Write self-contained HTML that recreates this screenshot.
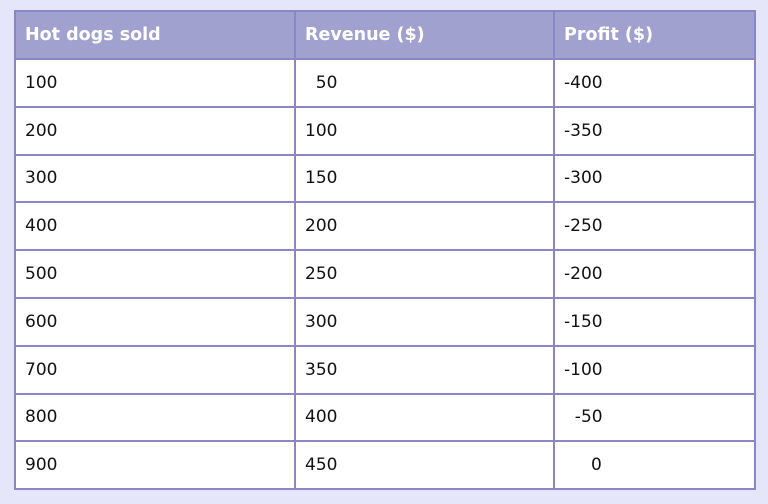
<!DOCTYPE html>
<html><head><style>
body{margin:0;width:768px;height:504px;background:#e6e6fa;font-family:"DejaVu Sans",sans-serif;overflow:hidden}
table{position:absolute;left:14px;top:10px;border-collapse:collapse;width:742px}
td,th{border:2px solid #8a88c4;height:45.8px;padding:0 0 0 9px;text-align:left;font-size:17px;color:#111;background:#fff;white-space:pre}
th{background:#a1a1cf;color:#fff;font-weight:bold;height:46px;font-size:17.5px}
col.a{width:280px}col.b{width:259px}
</style></head><body>
<table><colgroup><col class="a"><col class="b"><col></colgroup>
<tr><th>Hot dogs sold</th><th>Revenue ($)</th><th>Profit ($)</th></tr>
<tr><td>100</td><td>  50</td><td>-400</td></tr>
<tr><td>200</td><td>100</td><td>-350</td></tr>
<tr><td>300</td><td>150</td><td>-300</td></tr>
<tr><td>400</td><td>200</td><td>-250</td></tr>
<tr><td>500</td><td>250</td><td>-200</td></tr>
<tr><td>600</td><td>300</td><td>-150</td></tr>
<tr><td>700</td><td>350</td><td>-100</td></tr>
<tr><td>800</td><td>400</td><td>  -50</td></tr>
<tr><td>900</td><td>450</td><td>     0</td></tr>
</table>
</body></html>
